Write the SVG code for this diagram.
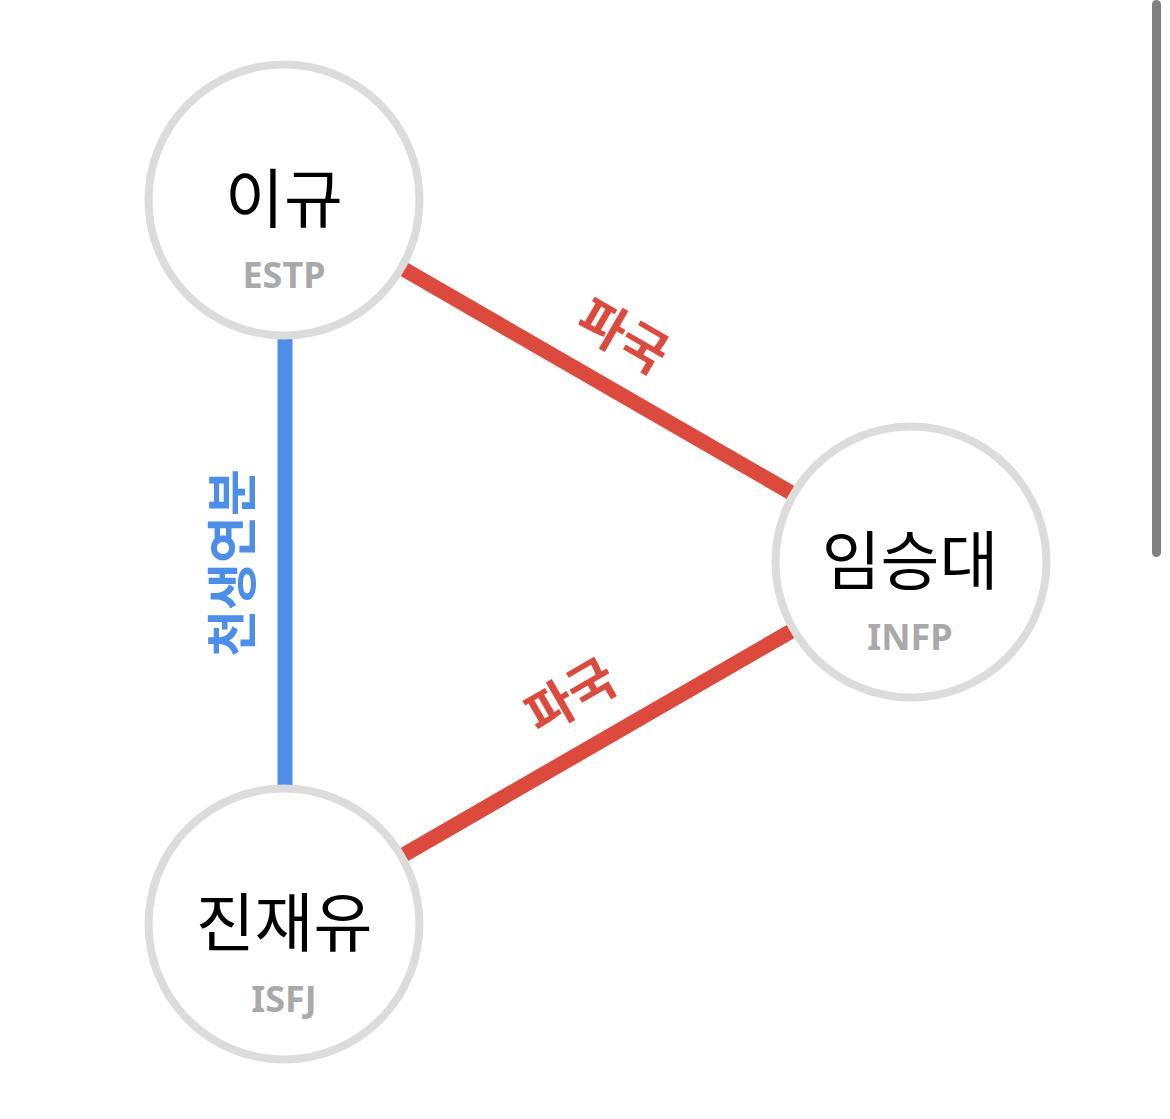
<svg xmlns="http://www.w3.org/2000/svg" width="1170" height="1119" viewBox="0 0 1170 1119">
<style>
.node{fill:#ffffff;stroke:#dcdcdc;stroke-width:8}
.name{font-family:"Noto Sans CJK KR","Noto Sans",sans-serif;font-size:64px;font-weight:400;fill:#000000;text-anchor:middle}
.mbti{font-family:"Noto Sans","Open Sans",sans-serif;font-size:36px;font-weight:700;fill:#a9a9a9;text-anchor:middle}
.red{stroke:#dc4a3e;stroke-width:15;fill:none}
.blue{stroke:#4c8eea;stroke-width:15;fill:none}
.lbl{font-family:"Noto Sans CJK KR","Noto Sans",sans-serif;font-size:51px;font-weight:700;text-anchor:middle;dominant-baseline:central}
</style>
<rect width="1170" height="1119" fill="#ffffff"/>
<rect x="1152" y="0" width="9" height="557" rx="4.5" fill="#808080"/>
<g id="connectors">
<line class="blue" x1="285" y1="200" x2="285" y2="924"/>
<line class="red" x1="284" y1="200" x2="911" y2="562"/>
<line class="red" x1="284" y1="924" x2="911" y2="562"/>
<text class="lbl" fill="#4c8eea" transform="translate(229 563) rotate(-90)">천생연분</text>
<text class="lbl" fill="#dc4a3e" transform="translate(625 333) rotate(30)">파국</text>
<text class="lbl" fill="#dc4a3e" transform="translate(569 693) rotate(-30)">파국</text>
</g>
<g id="node-igyu">
<circle class="node" cx="284" cy="200" r="135.5"/>
<text class="name" x="284" y="222">이규</text>
<text class="mbti" x="284" y="288">ESTP</text>
</g>
<g id="node-imseungdae">
<circle class="node" cx="911" cy="562" r="135.5"/>
<text class="name" x="910" y="584">임승대</text>
<text class="mbti" x="910" y="650">INFP</text>
</g>
<g id="node-jinjaeyu">
<circle class="node" cx="284" cy="924" r="135.5"/>
<text class="name" x="284" y="946">진재유</text>
<text class="mbti" x="284" y="1012">ISFJ</text>
</g>
</svg>
